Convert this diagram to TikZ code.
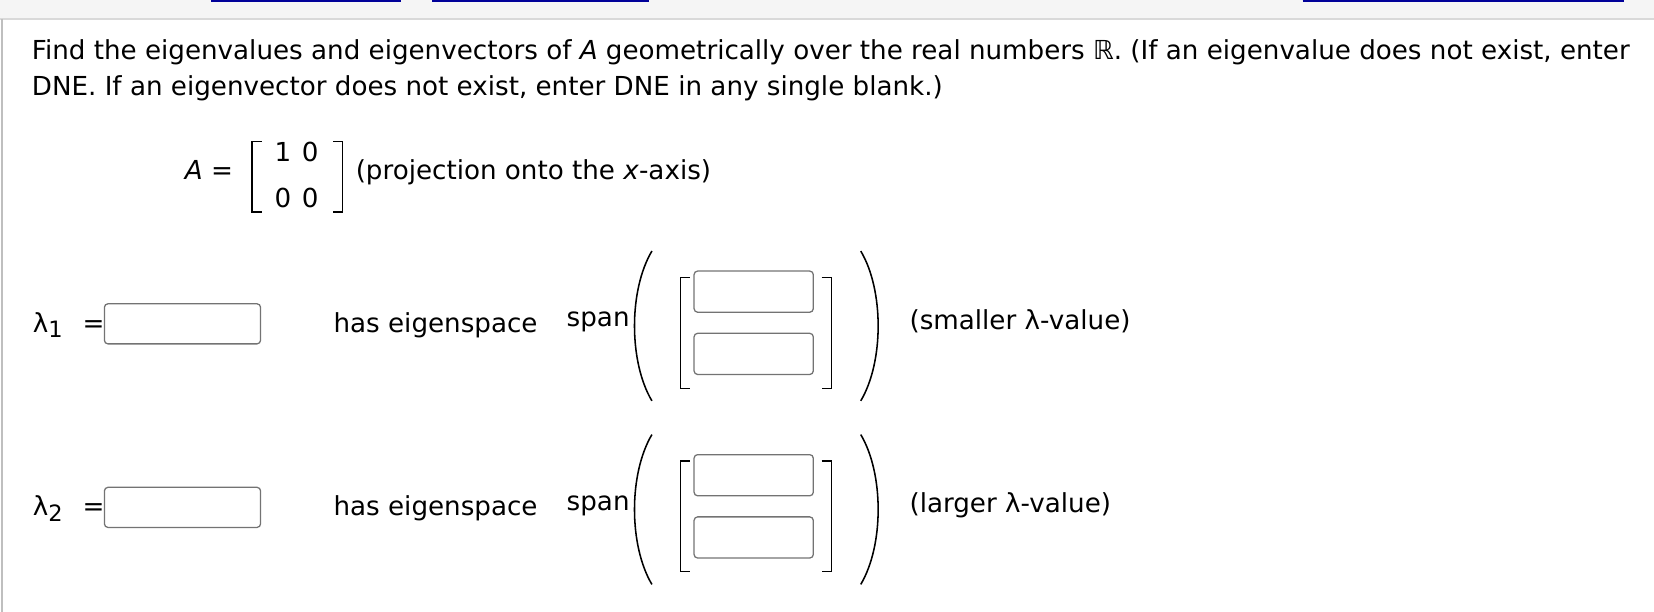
\documentclass[tikz,border=0pt]{standalone}
\usepackage{fontspec}
\setmainfont{DejaVu Sans}
\begin{document}
\begin{tikzpicture}[x=0.75pt,y=-0.75pt,
  txt/.style={anchor=base west,inner sep=0pt,font=\fontsize{18.6}{22}\selectfont},
  brk/.style={line width=0.9pt},
  par/.style={line width=1.1pt},
  ibox/.style={draw=black!55,line width=0.9pt,rounded corners=2.5pt}]
\useasboundingbox (0,0) rectangle (1568,580);
\fill[black!4] (0,0) rectangle (1568,18);
\draw[black!15,line width=1.5pt] (0,18) -- (1568,18);
\draw[black!25,line width=1.5pt] (2,18) -- (2,580);
\foreach \a/\b in {200/380,410/615,1235/1540}{\draw[blue!60!black,line width=1.5pt] (\a,1) -- (\b,1);}
\node[txt] (l1) at (30,56) {Find the eigenvalues and eigenvectors of \textit{A} geometrically over the real numbers ℝ. (If an eigenvalue does not exist, enter};
\node[txt] (l2) at (30,91) {DNE. If an eigenvector does not exist, enter DNE in any single blank.)};
\node[txt] (Aeq) at (175,170) {\textit{A} =};
\draw[brk] (248,134) -- (239,134) -- (239,201) -- (248,201);
\draw[brk] (316,134) -- (325,134) -- (325,201) -- (316,201);
\node[txt] (m11) at (260,153) {1};
\node[txt] (m12) at (286,153) {0};
\node[txt] (m21) at (260,197) {0};
\node[txt] (m22) at (286,197) {0};
\node[txt] (proj) at (337,170) {(projection onto the \textit{x}-axis)};
% row 1
\node[txt] (lamA) at (31,315) {λ\raisebox{-0.4ex}{\fontsize{16}{18}\selectfont 1}};
\node[txt] (eqA) at (78,315) {=};
\draw[ibox] (99,288) rectangle (247,326);
\node[txt] (hasA) at (316,315) {has eigenspace};
\node[txt] (spanA) at (537,310) {span};
\draw[par] (618,238) .. controls (596,275) and (596,343) .. (618,380);
\draw[par] (816,238) .. controls (838,275) and (838,343) .. (816,380);
\draw[brk] (654,263) -- (645,263) -- (645,368) -- (654,368);
\draw[brk] (779,263) -- (788,263) -- (788,368) -- (779,368);
\draw[ibox] (658,257) rectangle (771,296);
\draw[ibox] (658,316) rectangle (771,355);
\node[txt] (noteA) at (862,312) {(smaller λ-value)};
% row 2
\node[txt] (lamB) at (31,489) {λ\raisebox{-0.4ex}{\fontsize{16}{18}\selectfont 2}};
\node[txt] (eqB) at (78,489) {=};
\draw[ibox] (99,462) rectangle (247,500);
\node[txt] (hasB) at (316,489) {has eigenspace};
\node[txt] (spanB) at (537,484) {span};
\draw[par] (618,412) .. controls (596,449) and (596,517) .. (618,554);
\draw[par] (816,412) .. controls (838,449) and (838,517) .. (816,554);
\draw[brk] (654,437) -- (645,437) -- (645,542) -- (654,542);
\draw[brk] (779,437) -- (788,437) -- (788,542) -- (779,542);
\draw[ibox] (658,431) rectangle (771,470);
\draw[ibox] (658,490) rectangle (771,529);
\node[txt] (noteB) at (862,486) {(larger λ-value)};
\end{tikzpicture}
\end{document}
